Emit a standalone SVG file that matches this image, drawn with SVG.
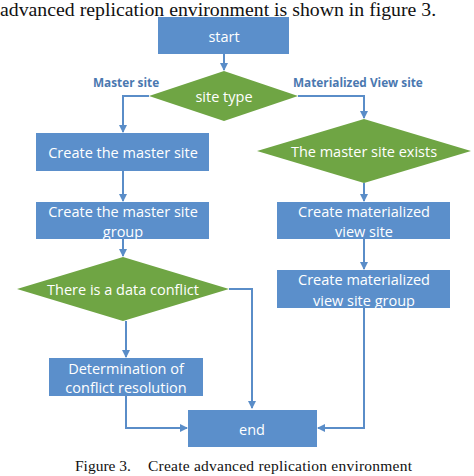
<svg xmlns="http://www.w3.org/2000/svg" width="474" height="476" viewBox="0 0 474 476">
<defs>
<marker id="ah" markerWidth="8" markerHeight="8" refX="7" refY="4" orient="auto" markerUnits="userSpaceOnUse">
<path d="M0,0 L8,4 L0,8 Z" fill="#5A8DC8"/>
</marker>
</defs>
<style>
.box{fill:#5B8FCB}
.dia{fill:#6FA544}
.t{font-family:"Open Sans","Liberation Sans",Arial,sans-serif;font-size:14.5px;fill:#fff;text-anchor:middle;dominant-baseline:central}
.lbl{font-family:"Open Sans","Liberation Sans",Arial,sans-serif;font-size:11.8px;font-weight:bold;fill:#4A78B0}
.cap{font-family:"Liberation Serif","Times New Roman",serif;fill:#111}
.c{fill:none;stroke:#5A8DC8;stroke-width:2;marker-end:url(#ah)}
</style>
<rect width="474" height="476" fill="#fff"/>
<text class="cap" x="0" y="16" font-size="19.8">advanced replication environment is shown in figure 3.</text>
<g id="connectors">
<path class="c" d="M224,54 V70"/>
<path class="c" d="M149,96 H123 V132"/>
<path class="c" d="M298,96 H364 V118"/>
<path class="c" d="M123,171 V201"/>
<path class="c" d="M123,239 V256"/>
<path class="c" d="M364,183 V201"/>
<path class="c" d="M364,239 V269"/>
<path class="c" d="M229,289 H252 V408"/>
<path class="c" d="M126,321 V357"/>
<path class="c" d="M126,396 V428 H187"/>
<path class="c" d="M364,308 V428 H318"/>
</g>
<g id="start">
<rect class="box" x="158" y="17" width="131" height="37"/>
<text class="t" x="224" y="36">start</text>
</g>
<g id="sitetype">
<polygon class="dia" points="224,71 298,96 224,121 149,96"/>
<text class="t" x="224" y="96">site type</text>
</g>
<text class="lbl" x="93" y="87">Master site</text>
<text class="lbl" x="293" y="87">Materialized View site</text>
<g id="mastersite">
<rect class="box" x="36" y="133" width="173" height="38"/>
<text class="t" x="123" y="152">Create the master site</text>
</g>
<g id="mastergroup">
<rect class="box" x="36" y="202" width="173" height="37"/>
<text class="t" x="123" y="211">Create the master site</text>
<text class="t" x="123" y="231">group</text>
</g>
<g id="conflict">
<polygon class="dia" points="123,257 229,289 123,321 17,289"/>
<text class="t" x="123" y="289">There is a data conflict</text>
</g>
<g id="resolution">
<rect class="box" x="49" y="358" width="154" height="38"/>
<text class="t" x="126" y="368">Determination of</text>
<text class="t" x="126" y="387">conflict resolution</text>
</g>
<g id="exists">
<polygon class="dia" points="364,119 471,151 364,183 257,151"/>
<text class="t" x="364" y="151">The master site exists</text>
</g>
<g id="mvsite">
<rect class="box" x="277" y="202" width="173" height="37"/>
<text class="t" x="364" y="211">Create materialized</text>
<text class="t" x="364" y="231">view site</text>
</g>
<g id="mvgroup">
<rect class="box" x="277" y="270" width="173" height="38"/>
<text class="t" x="364" y="279">Create materialized</text>
<text class="t" x="364" y="300">view site group</text>
</g>
<g id="end">
<rect class="box" x="188" y="410" width="129" height="37"/>
<text class="t" x="252" y="429">end</text>
</g>
<text class="cap" x="75" y="471" font-size="15.5">Figure 3.</text>
<text class="cap" x="148" y="471" font-size="15.5" textLength="264" lengthAdjust="spacing">Create advanced replication environment</text>
</svg>
